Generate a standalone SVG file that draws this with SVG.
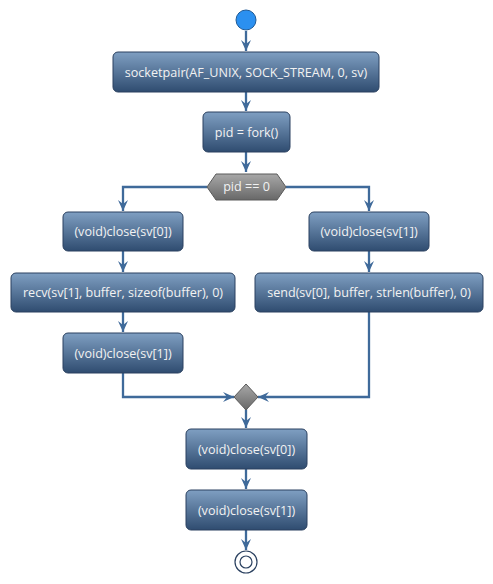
<svg xmlns="http://www.w3.org/2000/svg" width="493" height="584" viewBox="0 0 493 584">
<defs>
<linearGradient id="g" x1="0" y1="0" x2="0" y2="1">
<stop offset="0" stop-color="#7f9fc2"/>
<stop offset="1" stop-color="#2f4c70"/>
</linearGradient>
<linearGradient id="gg" x1="0" y1="0" x2="0" y2="1">
<stop offset="0" stop-color="#a8a8a8"/>
<stop offset="1" stop-color="#686868"/>
</linearGradient>
<marker id="ah" markerUnits="userSpaceOnUse" markerWidth="12" markerHeight="14" viewBox="0 0 12 10" refX="11" refY="5" orient="auto">
<path d="M0,0 L11,5 L0,10 L4,5 Z" fill="#3f6a9a"/>
</marker>
<style>
.box{fill:url(#g);stroke:#2b4160;stroke-width:1}
.t{font-family:"Open Sans","Noto Sans",sans-serif;font-size:12.6px;fill:#f2f2f2;text-anchor:middle}
.c{fill:none;stroke:#3f6a9a;stroke-width:2.3}
</style>
</defs>
<g id="connectors">
<path class="c" d="M246,31 V51" marker-end="url(#ah)"/>
<path class="c" d="M246,92 V111" marker-end="url(#ah)"/>
<path class="c" d="M246,152 V172" marker-end="url(#ah)"/>
<path class="c" d="M207,187 H123 V211" marker-end="url(#ah)"/>
<path class="c" d="M286,187 H369 V211" marker-end="url(#ah)"/>
<path class="c" d="M123,251 V272" marker-end="url(#ah)"/>
<path class="c" d="M123,312 V332" marker-end="url(#ah)"/>
<path class="c" d="M369,251 V272" marker-end="url(#ah)"/>
<path class="c" d="M123,373 V397 H234" marker-end="url(#ah)"/>
<path class="c" d="M369,312 V397 H258" marker-end="url(#ah)"/>
<path class="c" d="M246,409 V428" marker-end="url(#ah)"/>
<path class="c" d="M246,469 V489" marker-end="url(#ah)"/>
<path class="c" d="M246,530 V550" marker-end="url(#ah)"/>
</g>
<g id="start"><circle cx="246" cy="20" r="10" fill="#2b90f0" stroke="#1f5a96" stroke-width="1"/></g>
<g id="n1"><rect class="box" x="113" y="52" width="266" height="40" rx="5"/><text class="t" x="246" y="77">socketpair(AF_UNIX, SOCK_STREAM, 0, sv)</text></g>
<g id="n2"><rect class="box" x="203" y="112" width="87" height="40" rx="5"/><text class="t" x="246.5" y="137">pid = fork()</text></g>
<g id="d1"><polygon points="207,187 216,174 277,174 286,187 277,200 216,200" fill="url(#gg)" stroke="#5a5a5a" stroke-width="1"/><text class="t" x="246.5" y="191">pid == 0</text></g>
<g id="l1"><rect class="box" x="63" y="212" width="120" height="39" rx="5"/><text class="t" x="123" y="236">(void)close(sv[0])</text></g>
<g id="l2"><rect class="box" x="11" y="273" width="224" height="39" rx="5"/><text class="t" x="123" y="297">recv(sv[1], buffer, sizeof(buffer), 0)</text></g>
<g id="l3"><rect class="box" x="63" y="333" width="120" height="40" rx="5"/><text class="t" x="123" y="358">(void)close(sv[1])</text></g>
<g id="r1"><rect class="box" x="309" y="212" width="120" height="39" rx="5"/><text class="t" x="369" y="236">(void)close(sv[1])</text></g>
<g id="r2"><rect class="box" x="255" y="273" width="228" height="39" rx="5"/><text class="t" x="369" y="297">send(sv[0], buffer, strlen(buffer), 0)</text></g>
<g id="merge"><polygon points="246,384 258,397 246,410 234,397" fill="url(#gg)" stroke="#5a5a5a" stroke-width="1"/></g>
<g id="b1"><rect class="box" x="186" y="429" width="121" height="40" rx="5"/><text class="t" x="246.5" y="454">(void)close(sv[0])</text></g>
<g id="b2"><rect class="box" x="186" y="490" width="121" height="40" rx="5"/><text class="t" x="246.5" y="515">(void)close(sv[1])</text></g>
<g id="end"><circle cx="246" cy="562" r="11" fill="none" stroke="#2b4160" stroke-width="1.2"/><circle cx="246" cy="562" r="6" fill="none" stroke="#2b4160" stroke-width="1.2"/></g>
</svg>
